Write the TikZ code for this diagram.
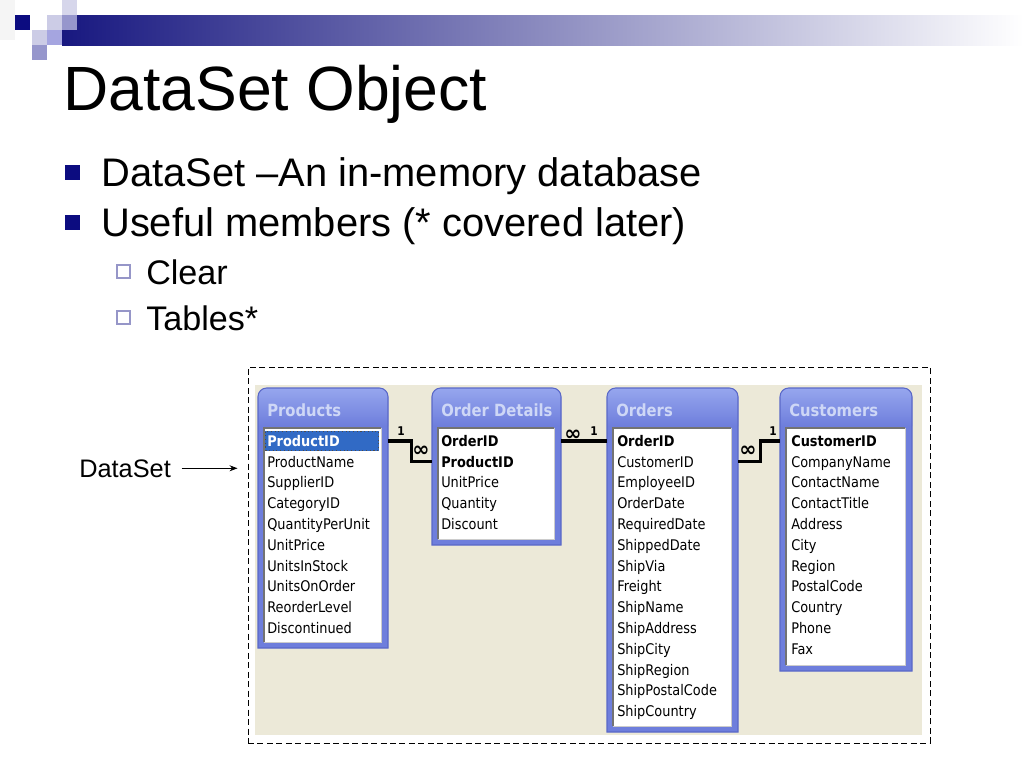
\documentclass[tikz,border=0pt]{standalone}
\usepackage{fontspec}
\setmainfont{Liberation Sans}
\newfontfamily\tfont[FakeStretch=0.88]{DejaVu Sans}
\newfontfamily\inffont{DejaVu Sans}
\usetikzlibrary{arrows.meta,fit}
\definecolor{barnavy}{RGB}{24,24,128}
\definecolor{navy}{RGB}{12,12,128}
\definecolor{sqlight}{RGB}{204,204,230}
\definecolor{sqmid}{RGB}{150,150,204}
\definecolor{hollow}{RGB}{150,150,200}
\definecolor{beige}{RGB}{236,233,216}
\definecolor{framebl}{RGB}{110,126,220}
\definecolor{frameedge}{RGB}{90,104,200}
\definecolor{hdtop}{RGB}{150,166,238}
\definecolor{hdtext}{RGB}{206,215,246}
\definecolor{selblue}{RGB}{49,106,197}
\tikzset{
  titletext/.style={anchor=base west, inner sep=0pt, font=\fontsize{46.9}{50}\selectfont},
  bultext/.style={anchor=base west, inner sep=0pt, font=\fontsize{29.9}{32}\selectfont},
  subtext/.style={anchor=base west, inner sep=0pt, font=\fontsize{25.6}{28}\selectfont},
  field/.style={anchor=west, inner sep=0pt, text height=8pt, text depth=0pt,
    font=\tfont\fontsize{11}{12}\selectfont},
  hdr/.style={anchor=base west, inner sep=0pt, text=hdtext,
    font=\tfont\bfseries\fontsize{12.6}{14}\selectfont},
  rel/.style={line width=2.4pt, line cap=butt},
  onelbl/.style={inner sep=0pt, font=\tfont\bfseries\fontsize{9}{10}\selectfont},
  inflbl/.style={inner sep=0pt, font=\inffont\bfseries\fontsize{15.5}{15}\selectfont},
  bulsq/.style={fill=navy},
  hollowsq/.style={draw=hollow, line width=0.9pt, fill=white}
}
% #1 x1, #2 y1, #3 x2, #4 y2, #5 name, #6 title
\newcommand\acctable[6]{%
  \fill[framebl] (#1,#4) [rounded corners=6.5pt] -- (#1,#2) -- (#3,#2) [sharp corners] -- (#3,#4) -- cycle;
  \shade[top color=hdtop, bottom color=framebl] (#1,{#2+38}) [rounded corners=6.5pt] -- (#1,#2) -- (#3,#2) [sharp corners] -- (#3,{#2+38}) -- cycle;
  \draw[frameedge, line width=0.8pt] (#1,#4) [rounded corners=6.5pt] -- (#1,#2) -- (#3,#2) [sharp corners] -- (#3,#4) -- cycle;
  \fill[white] ({#1+6},428) rectangle ({#3-7},{#4-6});
  \draw[black!55, line width=0.9pt] ({#1+6},{#4-6}) |- ({#3-7},428);
  \draw[black!20, line width=0.6pt] ({#1+6},{#4-6}) -| ({#3-7},428);
  \node[hdr] (#5-title) at ({#1+9},416) {#6};
  \node[fit={(#1,#2) (#3,#4)}, inner sep=0pt] (#5) {};
}
\begin{document}
\begin{tikzpicture}[x=0.75pt, y=-0.75pt]
\useasboundingbox (0,0) rectangle (1024,768);
\fill[white] (0,0) rectangle (1024,768);
% top decoration
\fill[black!4] (0,0) rectangle (15,40);
\shade[left color=barnavy, right color=white] (62,15) rectangle (1024,45);
\fill[navy] (15,15) rectangle (30,30);
\fill[sqlight] (47,15) rectangle (62,30);
\fill[sqlight!80] (62,0) rectangle (77,15);
\fill[sqmid] (62,15) rectangle (77,30);
\fill[sqlight] (32,30) rectangle (47,45);
\fill[sqmid!110!black] (47,30) rectangle (62,45);
\fill[sqmid] (32,45) rectangle (47,60);
% title and bullets
\node[titletext] (title) at (63,110) {DataSet Object};
\fill[bulsq] (65,165) rectangle (80,180);
\node[bultext] (b1) at (101,186) {DataSet –An in-memory database};
\fill[bulsq] (65,215) rectangle (80,230);
\node[bultext] (b2) at (101,236) {Useful members (* covered later)};
\draw[hollowsq] (117,265) rectangle (130,278);
\node[subtext] (s1) at (146,284) {Clear};
\draw[hollowsq] (117,311) rectangle (130,324);
\node[subtext] (s2) at (146,330) {Tables*};
% dataset frame
\node[fit={(248,367) (930,743)}, draw, dashed, dash pattern=on 4.5pt off 2.6pt, line width=0.7pt, inner sep=0pt] (dsframe) {};
\fill[beige] (255,385) rectangle (922,735);
% tables
\acctable{258}{388}{388}{648}{prod}{Products}
\acctable{432}{388}{561}{545}{od}{Order Details}
\acctable{607}{388}{738}{732}{ord}{Orders}
\acctable{780}{388}{912}{671}{cust}{Customers}
% selection on ProductID
\fill[selblue] (265,431) rectangle (379,451);
\draw[black!70, dotted, line width=0.8pt] (265.5,431.5) rectangle (378.5,450.5);
\node[field, text=white, font=\tfont\bfseries\fontsize{11}{12}\selectfont] (prod-1) at (267,441) {ProductID};
\foreach \t [count=\i from 2] in {ProductName,SupplierID,CategoryID,QuantityPerUnit,UnitPrice,UnitsInStock,UnitsOnOrder,ReorderLevel,Discontinued}
  \node[field] (prod-\i) at (267,{441+(\i-1)*20.8}) {\t};
\foreach \t [count=\i] in {{\bfseries OrderID},{\bfseries ProductID},UnitPrice,Quantity,Discount}
  \node[field] (od-\i) at (441,{441+(\i-1)*20.8}) {\t};
\foreach \t [count=\i] in {{\bfseries OrderID},CustomerID,EmployeeID,OrderDate,RequiredDate,ShippedDate,ShipVia,Freight,ShipName,ShipAddress,ShipCity,ShipRegion,ShipPostalCode,ShipCountry}
  \node[field] (ord-\i) at (617,{441+(\i-1)*20.8}) {\t};
\foreach \t [count=\i] in {{\bfseries CustomerID},CompanyName,ContactName,ContactTitle,Address,City,Region,PostalCode,Country,Phone,Fax}
  \node[field] (cust-\i) at (791,{441+(\i-1)*20.8}) {\t};
% relationships
\draw[rel] (prod.east |- prod-1) -- ++(23,0) |- (od.west |- od-2);
\draw[rel] (od.east |- od-1) -- (ord.west |- ord-1);
\draw[rel] (ord.east |- ord-2) -- ++(22,0) |- (cust.west |- cust-1);
\node[onelbl] (r1a) at (401,431) {1};
\node[inflbl] (r1b) at (421,451) {∞};
\node[inflbl] (r2a) at (573,435) {∞};
\node[onelbl] (r2b) at (594,431) {1};
\node[inflbl] (r3a) at (748,451) {∞};
\node[onelbl] (r3b) at (773,431) {1};
% DataSet label
\node[anchor=base west, inner sep=0pt, font=\fontsize{19}{20}\selectfont] (dslabel) at (79,477) {DataSet};
\draw[-{Stealth[length=6pt,width=4.5pt]}, line width=0.7pt] ([xshift=8pt]dslabel.east) -- ([xshift=-7.5pt]dsframe.west |- dslabel.east);
\end{tikzpicture}
\end{document}
